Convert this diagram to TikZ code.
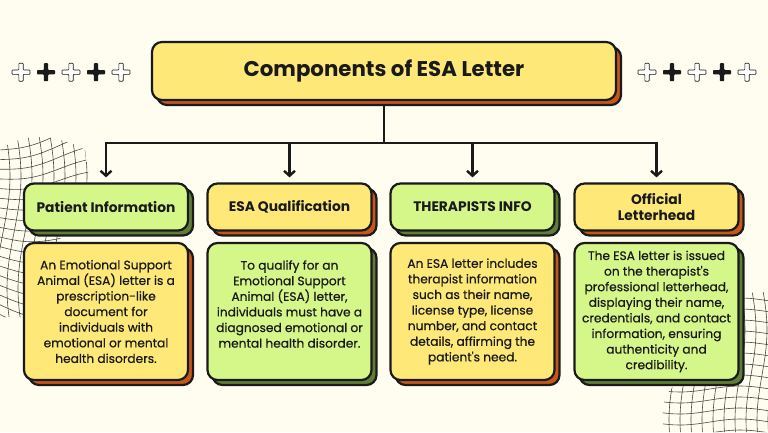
\documentclass[tikz,border=0pt]{standalone}
\usepackage{fontspec}
\setmainfont{Poppins}
\newfontfamily\medfont{Poppins}[FakeBold=0.6]
\usetikzlibrary{shadows,arrows.meta}
\definecolor{bg}{HTML}{FEFDF0}
\definecolor{ylw}{HTML}{FDE878}
\definecolor{grn}{HTML}{D5F78A}
\definecolor{org}{HTML}{C5561C}
\definecolor{dgrn}{HTML}{5E7E38}
\definecolor{ink}{HTML}{1A1A1A}
\definecolor{gridc}{HTML}{4A4A42}
\begin{document}
\begin{tikzpicture}[x=1pt,y=-1pt,
  box/.style={draw=ink, line width=2.2pt, rounded corners=10pt, inner sep=0pt, text=ink},
  oshadow/.style={copy shadow={shadow xshift=5pt, shadow yshift=-5pt, fill=org, draw=ink, line width=2.2pt}},
  gshadow/.style={copy shadow={shadow xshift=5pt, shadow yshift=-5pt, fill=dgrn, draw=ink, line width=2.2pt}},
  headbox/.style={box, minimum width=164pt, minimum height=47pt, align=center,
    font=\fontsize{13.8}{16.5}\selectfont\bfseries},
  bodybox/.style={box, minimum width=164pt, minimum height=137pt},
  bodytext/.style={align=center, inner sep=0pt, text=ink, font=\medfont\fontsize{12.2}{15.6}\selectfont},
  conn/.style={draw=ink, line width=2.4pt},
  arrowed/.style={-{Straight Barb[length=5pt,width=11pt]}, shorten >=5pt},
  gridline/.style={draw=gridc, line width=0.6pt},
  plusout/.style={draw=ink, line width=0.6pt, fill=white, rounded corners=0.8pt},
  plusin/.style={fill=ink, rounded corners=0.8pt}
]
\useasboundingbox (0,0) rectangle (768,432);
\fill[bg] (0,0) rectangle (768,432);

% warped grids
\begin{scope}
  \clip (0,150) .. controls (15,138) and (45,128) .. (85,150) -- (90,185)
        .. controls (65,205) and (58,230) .. (60,260) -- (58,318)
        .. controls (35,322) and (15,314) .. (0,318) -- cycle;
  \foreach \yy in {128,139,...,330}
    \draw[gridline] plot[smooth, domain=-10:100, samples=12] (\x,{\yy+4*sin(\x*3)+0.03*(\x-40)*(\yy-230)/10});
  \foreach \xx in {-8,3,...,100}
    \draw[gridline] plot[smooth, domain=120:330, samples=16] ({\xx+7*sin((\x-120)*1.6)},\x);
\end{scope}
\begin{scope}
  \clip (768,292) .. controls (730,292) and (700,300) .. (690,330) -- (672,388)
        .. controls (660,400) and (662,420) .. (664,432) -- (768,432) -- cycle;
  \foreach \yy in {290,301,...,440}
    \draw[gridline] plot[smooth, domain=650:775, samples=12] (\x,{\yy+3*sin((\x-650)*3)});
  \foreach \xx in {652,663,...,775}
    \draw[gridline] plot[smooth, domain=285:440, samples=14] ({\xx+5*sin((\x-285)*2)},\x);
\end{scope}

% plus signs
\foreach \cx/\kind in {21/plusout,46/plusin,71/plusout,96/plusin,121/plusout,
                        647/plusout,672/plusin,697/plusout,722/plusin,747/plusout}
  \path[\kind] (\cx-9,70) -- (\cx-2.2,70) -- (\cx-2.2,63.2) -- (\cx+2.2,63.2) -- (\cx+2.2,70)
     -- (\cx+9,70) -- (\cx+9,74.4) -- (\cx+2.2,74.4) -- (\cx+2.2,81.2) -- (\cx-2.2,81.2)
     -- (\cx-2.2,74.4) -- (\cx-9,74.4) -- cycle;

% title
\node[box, fill=ylw, oshadow, minimum width=464pt, minimum height=58pt,
      font=\fontsize{21.3}{25}\selectfont\bfseries] (title) at (384,71) {Components of ESA Letter};

% headers
\node[headbox, fill=grn, gshadow] (h1) at (106,207) {Patient Information};
\node[headbox, fill=ylw, oshadow] (h2) at (289.5,207) {ESA Qualification};
\node[headbox, fill=grn, gshadow] (h3) at (472.5,207) {THERAPISTS INFO};
\node[headbox, fill=ylw, oshadow] (h4) at (656.5,207) {Official\\Letterhead};

% connectors
\coordinate (hub) at (384,143);
\draw[conn] ([yshift=-5pt]title.south) -- (hub);
\foreach \h in {h1,h2,h3,h4}
  \draw[conn, arrowed] (hub) -| (\h.north);

% body boxes
\node[bodybox, fill=ylw, oshadow] (b1) at (106,311.5) {};
\node[bodybox, fill=grn, gshadow] (b2) at (289.5,311.5) {};
\node[bodybox, fill=ylw, oshadow] (b3) at (472.5,311.5) {};
\node[bodybox, fill=grn, gshadow] (b4) at (656.5,311.5) {};

\node[bodytext] (t1) at (b1.center) {An Emotional Support\\Animal (ESA) letter is a\\prescription-like\\document for\\individuals with\\emotional or mental\\health disorders.};
\node[bodytext] (t2) at ([yshift=7.5pt]b2.center) {To qualify for an\\Emotional Support\\Animal (ESA) letter,\\individuals must have a\\diagnosed emotional or\\mental health disorder.};
\node[bodytext] (t3) at (b3.center) {An ESA letter includes\\therapist information\\such as their name,\\license type, license\\number, and contact\\details, affirming the\\patient's need.};
\node[bodytext] (t4) at (b4.center) {The ESA letter is issued\\on the therapist's\\professional letterhead,\\displaying their name,\\credentials, and contact\\information, ensuring\\authenticity and\\credibility.};
\end{tikzpicture}
\end{document}
